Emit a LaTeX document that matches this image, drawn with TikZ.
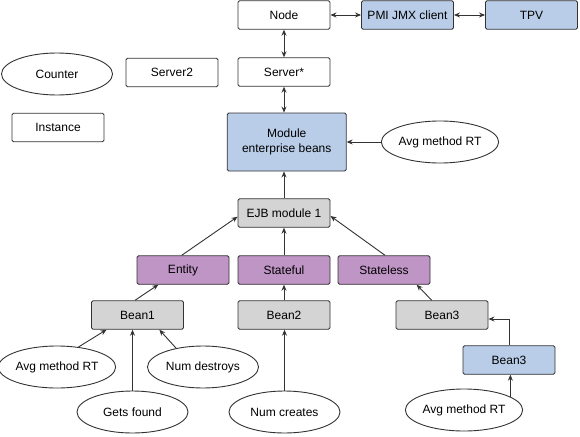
\documentclass[tikz,border=0pt]{standalone}
\usepackage{fontspec}
\setmainfont{Liberation Sans}
\usetikzlibrary{arrows.meta,shapes.geometric}
\definecolor{lc}{RGB}{51,51,51}
\definecolor{bluef}{RGB}{185,205,232}
\definecolor{purplef}{RGB}{191,149,198}
\definecolor{grayf}{RGB}{212,212,212}
\tikzset{
  box/.style={draw=lc, line width=0.9pt, rounded corners=1.5pt, minimum width=92pt, minimum height=28.5pt, inner sep=0pt, align=center, font=\fontsize{12}{14.5}\selectfont},
  wbox/.style={box, fill=white},
  bbox/.style={box, fill=bluef},
  pbox/.style={box, fill=purplef},
  gbox/.style={box, fill=grayf},
  oval/.style={draw=lc, line width=0.9pt, ellipse, minimum width=111pt, minimum height=42pt, inner sep=0pt, font=\fontsize{12}{14.5}\selectfont},
  arr/.style={draw=lc, line width=0.9pt, -{Stealth[length=6pt,width=5pt]}},
  darr/.style={draw=lc, line width=0.9pt, {Stealth[length=6pt,width=5pt]}-{Stealth[length=6pt,width=5pt]}}
}
\begin{document}
\begin{tikzpicture}[x=1pt,y=-1pt]
\useasboundingbox[fill=white] (0,0) rectangle (580,436);
% top row
\node[wbox] (node) at (284,15) {Node};
\node[bbox] (pmi) at (407.5,15) {PMI JMX client};
\node[bbox] (tpv) at (531.5,15) {TPV};
\node[wbox] (server) at (284,72) {Server*};
\node[wbox] (server2) at (172,72.5) {Server2};
\node[oval] (counter) at (57,74) {Counter};
\node[wbox] (instance) at (58,127.5) {Instance};
\node[bbox, minimum width=119pt, minimum height=58pt] (module) at (286.7,142) {Module\\enterprise beans};
\node[oval] (avgtop) at (440,142) {Avg method RT};
\node[gbox] (ejb) at (284,213) {EJB module 1};
\node[pbox] (entity) at (183,270) {Entity};
\node[pbox] (stateful) at (284,270) {Stateful};
\node[pbox] (stateless) at (384,270) {Stateless};
\node[gbox] (bean1) at (137.5,315) {Bean1};
\node[gbox] (bean2) at (284,315) {Bean2};
\node[gbox] (bean3) at (442,315) {Bean3};
\node[bbox] (bean3b) at (509,360) {Bean3};
\node[oval] (avgl) at (57,367) {Avg method RT};
\node[oval] (numd) at (203,367) {Num destroys};
\node[oval] (gets) at (132.5,412) {Gets found};
\node[oval] (numc) at (284.5,412) {Num creates};
\node[oval] (avgr) at (464,410) {Avg method RT};
% connectors
\draw[darr] (node) -- (pmi);
\draw[darr] (pmi) -- (tpv);
\draw[darr] (node) -- (server);
\draw[darr] (server.south) -- (server.south |- module.north);
\draw[arr] (avgtop) -- (module);
\draw[arr] (ejb.north) -- (ejb.north |- module.south);
\draw[arr] ([xshift=-1.3pt]entity.north) -- ([yshift=-3.7pt]ejb.west);
\draw[arr] (stateful) -- (ejb);
\draw[arr] ([xshift=1pt]stateless.north) -- ([yshift=-3pt]ejb.east);
\draw[arr] ([xshift=-2.5pt]bean1.north) -- ([xshift=-24.7pt]entity.south);
\draw[arr] (bean2) -- (stateful);
\draw[arr] ([xshift=-10.3pt]bean3.north) -- ([xshift=32.7pt]stateless.south);
\draw[arr] (bean3b.north) |- ([yshift=-4pt]bean3.east);
\draw[arr] (avgr.16) -- (avgr.16 |- bean3b.south);
\draw[arr] (avgl.43) -- ([xshift=-31pt]bean1.south);
\draw[arr] (gets.north) -- (gets.north |- bean1.south);
\draw[arr] (numd.145) -- ([xshift=21.8pt]bean1.south);
\draw[arr] (numc.north) -- (numc.north |- bean2.south);
\end{tikzpicture}
\end{document}
